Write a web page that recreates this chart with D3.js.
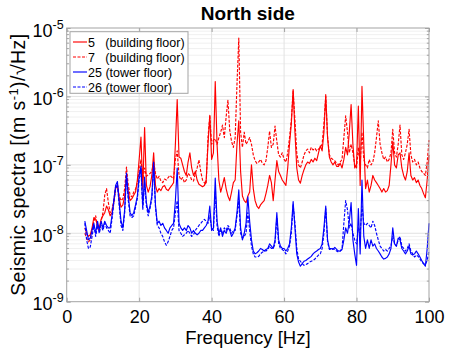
<!DOCTYPE html>
<html><head><meta charset="utf-8">
<script src="https://cdn.jsdelivr.net/npm/d3@7"></script>
<style>
html,body{margin:0;padding:0;background:#fff;}
svg{display:block;font-family:"Liberation Sans",Arial,Helvetica,sans-serif;}
</style></head><body>
<svg id="chart" width="474" height="350"></svg>
<script>
// Frequency bins [Hz]
const freqHz = [5,5.5,6,6.5,7,7.5,8,8.5,9,9.5,10,10.5,11,11.5,12,12.5,13,13.5,14,14.5,
15,15.5,16,16.5,17,17.5,18,18.5,19,19.5,20,20.5,21,21.5,22,22.5,23,23.5,24,24.5,
25,25.5,26,26.5,27,27.5,28,28.5,29,29.5,30,30.5,31,31.5,32,32.5,33,33.5,34,34.5,
35,35.5,36,36.5,37,37.5,38,38.5,39,39.5,40,40.5,41,41.5,42,42.5,43,43.5,44,44.5,
45,45.5,46,46.5,47,47.5,48,48.5,49,49.5,50,50.5,51,51.5,52,52.5,53,53.5,54,54.5,
55,55.5,56,56.5,57,57.5,58,58.5,59,59.5,60,60.5,61,61.5,62,62.5,63,63.5,64,64.5,
65,65.5,66,66.5,67,67.5,68,68.5,69,69.5,70,70.5,71,71.5,72,72.5,73,73.5,74,74.5,
75,75.5,76,76.5,77,77.5,78,78.5,79,79.5,80,80.5,81,81.5,82,82.5,83,83.5,84,84.5,
85,85.5,86,86.5,87,87.5,88,88.5,89,89.5,90,90.5,91,91.5,92,92.5,93,93.5,94,94.5,
95,95.5,96,96.5,97,97.5,98,98.5,99,99.5,100];

// Spectra values in units of 1e-9 (m s^-1)/sqrt(Hz)
const valueUnit = 1e-9;
const sensor5 = [12,10,9,9.5,12,17,16,13,12,16, 18,20,25,22,18,20,28,45,50,32,
24,26,35,65,40,30,32,36,40,60, 120,255,45,350,50,40,48,70,150,50,
40,45,42,48,50,44,42,46,50,55, 200,900,130,125,100,80,70,110,150,90,
70,80,60,52,50,48,50,60,200,530, 120,150,1650,200,60,40,50,65,45,35,
30,40,55,60,200,440,80,35,30,28, 35,40,100,45,30,25,23,26,28,30,
38,50,70,55,30,60,115,80,70,60, 55,50,90,200,400,1260,300,90,60,54,
70,85,100,110,105,120,110,125,115,150, 190,160,300,1060,250,130,110,100,110,95,
95,105,90,120,180,140,300,760,200,90, 100,720,50,1400,200,45,60,40,50,70,
60,55,50,45,40,45,40,42,50,100, 220,100,90,140,150,90,70,60,80,150,
70,60,65,55,60,50,45,38,33,60, 140];
const sensor7 = [10,8.5,7.5,8,11,15,18,12,11,15, 20,36,45,28,20,22,30,48,52,35,
30,32,45,93,50,36,34,40,44,55, 80,120,60,90,68,72,75,80,110,75,
62,68,58,55,62,60,65,70,66,62, 120,160,70,60,65,55,60,75,70,60,
58,75,90,118,80,60,55,52,250,520, 200,230,240,200,250,300,380,250,500,880,
320,220,180,250,1500,7100,300,180,300,200, 220,250,200,140,115,105,110,120,105,100,
115,180,310,180,200,370,220,140,130,150, 120,110,150,250,450,1200,450,150,100,90,
110,140,160,170,150,180,165,175,160,170, 180,200,400,1000,260,140,125,120,115,105,
100,110,120,250,520,300,150,200,150,100, 90,180,100,300,120,100,90,120,100,110,
150,250,440,200,150,120,130,110,120,150, 330,150,130,200,380,140,120,150,200,330,
140,110,120,100,110,90,80,75,70,110, 230];
const sensor25 = [15,11,8,8.5,11,14,10,15,11,15, 12,15,13,12,12,18,30,50,57,28,
15,12,22,76,35,20,18,20,26,35, 70,95,25,66,28,20,25,35,110,26,
14,15,13,14,12,11,10,12,13,14, 30,90,14,12,11,12,11,13,12,10,
11,10,9.5,10,11,11,12,13,15,25, 11,12,64,15,10,12,9,11,10,12,
11,9,10,12,20,43,12,8,10,14, 34,15,8,5.5,5,5.2,5.5,6,5.8,5.5,
5.8,6,7,6.5,6,8,20,8,6.5,6, 6,5.5,6,7,12,29,12,5,3.8,3.3,
3.6,3.9,4,4.2,4.4,4.6,5,5.3,5.5,5.8, 6,7,12,25,8,6,6,5.8,6.2,5.8,
5.5,5.5,5.8,8,12,10,15,28,8,5, 3.4,23,5,60,9,6,8,6,8,6.5,
7,6,5.5,5,4.5,4.2,4.3,4.5,5,6, 12,7,6.5,8.5,8,6,5.5,5,5.5,6.5,
5,4.8,5,5.5,5,4.5,4,3.6,3.3,6, 14];
const sensor26 = [14,8,6,6.3,9,13,9,13,10,13, 11,14,12,11,10,16,28,45,52,25,
13,11,20,70,30,18,17,18,24,32, 60,85,22,55,25,18,23,32,95,24,
13,12,10,9,7.5,6.7,7.5,9,11,12, 20,30,11,10,9,9.5,10,11,10,9,
9.5,11,12,13,14,15,16,15,14,18, 12,11,40,13,9,11,10,12,11,13,
12,10,11,11,18,30,10,8.5,9,10, 20,11,6.5,5,4.5,4.5,4.6,5,5.3,5.5,
5.5,5.8,6.5,6,6,7,17,7,6,5.8, 5.5,5,5.5,6.5,10,26,14,6,4.2,3.9,
3.6,3.4,3.5,3.6,3.8,3.9,4,4.2,4.5,4.8, 5,6,10,23,7.5,5.8,5.8,6,5.8,5.5,
5.3,5.5,6,14,30,22,12,14,10,8, 7,12,10,25,14,13,14,13,12,15,
13,10,8,6.5,6,5.5,5.8,5.5,6,6.5, 9,7,6.5,8,9,6.5,6,5.5,6,7,
5.5,5,4.5,4.8,4.6,4.2,3.8,3.6,3.5,4, 5.5];

const seriesLabels = ["5   (building floor)","7   (building floor)","25 (tower floor)","26 (tower floor)"];
const seriesValues = [sensor5, sensor7, sensor25, sensor26];
const seriesColors = ["#ff0000","#ff0000","#0000ff","#0000ff"];
const seriesDash = [null,"3,1.5",null,"3,1.5"];
const xTickValues = [0,20,40,60,80,100];
const yTickExponents = [-9,-8,-7,-6,-5];
const titleText = "North side";
const xLabelText = "Frequency [Hz]";

const svg = d3.select("#chart");
const X0 = 66.7, X1 = 429, Y0 = 301.7, Y1 = 28;
const x = d3.scaleLinear().domain([0,100]).range([X0,X1]);
const y = d3.scaleLog().domain([1e-9,1e-5]).range([Y0,Y1]);

const frameColor = "#a3a3a3";

// minor grid
const minorVals = [];
for (let e=-9;e<-5;e++) for (let m=2;m<=9;m++) minorVals.push(m*Math.pow(10,e));
svg.append("g").selectAll("line").data(minorVals).join("line")
  .attr("x1",X0).attr("x2",X1).attr("y1",d=>y(d)).attr("y2",d=>y(d))
  .attr("stroke","#f0f0f0").attr("stroke-width",1);
// major grid
svg.append("g").selectAll("line").data(yTickExponents.slice(1,-1)).join("line")
  .attr("x1",X0).attr("x2",X1).attr("y1",d=>y(Math.pow(10,d))).attr("y2",d=>y(Math.pow(10,d)))
  .attr("stroke","#e2e2e2").attr("stroke-width",1);
svg.append("g").selectAll("line").data(xTickValues.slice(1,-1)).join("line")
  .attr("x1",d=>x(d)).attr("x2",d=>x(d)).attr("y1",Y1).attr("y2",Y0)
  .attr("stroke","#e2e2e2").attr("stroke-width",1);

// data lines
const line = d3.line().x((d,i)=>x(freqHz[i])).y(d=>y(d*valueUnit));
seriesValues.forEach((vals,k)=>{
  svg.append("path").datum(vals)
    .attr("d",line).attr("fill","none")
    .attr("stroke",seriesColors[k]).attr("stroke-width",1.15)
    .attr("stroke-linejoin","round")
    .attr("stroke-dasharray",seriesDash[k]);
});

// frame
svg.append("rect").attr("x",X0).attr("y",Y1).attr("width",X1-X0).attr("height",Y0-Y1)
  .attr("fill","none").attr("stroke",frameColor).attr("stroke-width",1);

// axes
const fs = 18;
const xAxis = svg.append("g").attr("transform",`translate(0,${Y0})`)
  .call(d3.axisBottom(x).tickValues(xTickValues).tickSizeInner(-4).tickSizeOuter(0).tickPadding(8.5));
xAxis.select(".domain").remove();
xAxis.selectAll("line").attr("stroke",frameColor);
xAxis.selectAll("text").attr("font-size",fs).attr("fill","#000").attr("font-family","Liberation Sans, Arial, sans-serif");

const xTop = svg.append("g").attr("transform",`translate(0,${Y1})`)
  .call(d3.axisTop(x).tickValues(xTickValues).tickSizeInner(-4).tickSizeOuter(0).tickFormat(""));
xTop.select(".domain").remove();
xTop.selectAll("line").attr("stroke",frameColor);

const yVals = yTickExponents.map(e=>Math.pow(10,e));
const yAxis = svg.append("g").attr("transform",`translate(${X0},0)`)
  .call(d3.axisLeft(y).tickValues(yVals).tickSizeInner(-4).tickSizeOuter(0).tickPadding(3).tickFormat(""));
yAxis.select(".domain").remove();
yAxis.selectAll("line").attr("stroke",frameColor);
yAxis.selectAll(".tick text").each(function(d,i){
  const t = d3.select(this).attr("dy","0.45em").attr("font-size",fs).attr("fill","#000")
    .attr("font-family","Liberation Sans, Arial, sans-serif");
  t.text(null);
  t.append("tspan").text("10");
  t.append("tspan").attr("dy",-8).attr("font-size",12.5).text(String(yTickExponents[i]));
});
const yRight = svg.append("g").attr("transform",`translate(${X1},0)`)
  .call(d3.axisRight(y).tickValues(yVals).tickSizeInner(-4).tickSizeOuter(0).tickFormat(""));
yRight.select(".domain").remove();
yRight.selectAll("line").attr("stroke",frameColor);

// minor ticks
[X0, X1].forEach((xx,side)=>{
  svg.append("g").selectAll("line").data(minorVals).join("line")
    .attr("x1",xx).attr("x2",side===0?xx+2.2:xx-2.2)
    .attr("y1",d=>y(d)).attr("y2",d=>y(d))
    .attr("stroke",frameColor).attr("stroke-width",1);
});

// title
svg.append("text").attr("x",(X0+X1)/2).attr("y",20).attr("text-anchor","middle")
  .attr("font-size",19).attr("font-weight","bold").attr("fill","#000").text(titleText);

// x label
svg.append("text").attr("x",(X0+X1)/2).attr("y",344).attr("text-anchor","middle")
  .attr("font-size",18.5).attr("fill","#000").text(xLabelText);

// y label
const yl = svg.append("text").attr("transform",`translate(25,${(Y0+Y1)/2}) rotate(-90)`)
  .attr("text-anchor","middle").attr("font-size",19.5).attr("fill","#000")
  .attr("textLength",262).attr("lengthAdjust","spacing");
yl.append("tspan").text("Seismic spectra [(m s");
yl.append("tspan").attr("dy",-7.5).attr("font-size",13).text("-1");
yl.append("tspan").attr("dy",7.5).text(")/\u221AHz]");

// legend
const lg = svg.append("g");
lg.append("rect").attr("x",70).attr("y",31.7).attr("width",118).attr("height",61.6)
  .attr("fill","#fff").attr("stroke",frameColor).attr("stroke-width",1);
seriesLabels.forEach((lab,k)=>{
  const cy = 42 + k*15;
  lg.append("line").attr("x1",73).attr("x2",87).attr("y1",cy).attr("y2",cy)
    .attr("stroke",seriesColors[k]).attr("stroke-width",1.15).attr("stroke-dasharray",seriesDash[k]);
  lg.append("text").attr("x",88).attr("y",cy+4.5).attr("font-size",12.5).attr("fill","#000")
    .style("white-space","pre").text(lab);
});
</script>
</body></html>
